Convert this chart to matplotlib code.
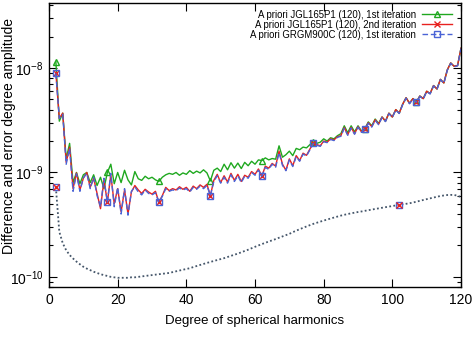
import numpy as np
from matplotlib import pyplot as plt

plt.rcParams['font.family'] = ['Liberation Sans', 'DejaVu Sans']

DEGREES = np.arange(2, 121)

# amplitudes in units of 1e-10
JGL_ITER1 = [115, 31, 37, 13.5, 19, 8.0, 10.0, 7.8, 9.5, 10.0,
             8.0, 9.5, 7.5, 9.0, 7.0, 10.0, 12.0, 7.8, 10.0, 8.0,
             10.5, 8.5, 7.6, 10.2, 8.7, 8.4, 9.2, 8.7, 9.0, 8.5,
             8.2, 9.0, 9.5, 9.8, 9.6, 10.0, 9.4, 9.9, 9.6, 10.4,
             9.8, 10.3, 9.9, 10.6, 9.9, 8.3, 10.5, 11.0, 10.2, 12.0,
             10.6, 12.4, 11.0, 12.3, 10.9, 12.5, 11.6, 12.8, 12.0, 13.2,
             13.0, 13.8, 13.2, 13.6, 13.4, 18.0, 14.0, 14.8, 16.0, 14.5,
             17.0, 16.5, 17.5, 17.2, 18.5, 19.5, 19.0, 19.5, 21.0, 20.0,
             21.5, 21.0, 22.5, 23.5, 28, 24, 28, 24.5, 28, 25,
             26.3, 30.5, 28, 32.5, 29.5, 34, 31, 37, 34, 40,
             37, 45, 52, 46, 51, 47.5, 54, 51, 60, 57,
             68, 63, 78, 72, 96, 112, 104, 106, 155]

JGL_ITER2 = [89, 33, 37, 12.5, 17.5, 7.0, 9.9, 6.8, 8.8, 10.0,
             7.2, 8.8, 6.3, 4.5, 8.5, 5.2, 9.5, 5.0, 7.0, 4.2,
             6.8, 4.0, 6.5, 7.5, 6.8, 6.3, 6.9, 6.5, 6.2, 6.6,
             5.2, 6.0, 7.2, 6.7, 7.0, 6.8, 7.3, 6.9, 7.2, 6.6,
             7.4, 7.0, 7.6, 7.2, 7.7, 6.0, 8.4, 9.6, 8.0, 9.3,
             8.1, 9.8, 8.4, 9.6, 8.2, 9.4, 9.0, 10.2, 9.6, 10.8,
             9.2, 11.5, 11.0, 12.2, 11.5, 16.0, 12.0, 10.5, 13.5, 11.6,
             14.5, 13.0, 15.3, 14.6, 16.8, 19.0, 18.5, 18.0, 20.0, 19.5,
             21.0, 20.5, 22.0, 22.5, 27.0, 23.0, 27.0, 23.5, 27.5, 24.5,
             26.0, 30, 27.5, 32, 29, 34, 31, 37, 34, 40,
             37, 45, 52, 46, 51, 47, 54, 51, 60, 57,
             68, 63, 78, 72, 96, 112, 104, 106, 155]

GRGM_ITER1 = [89, 33, 36, 12.0, 17.0, 6.6, 9.7, 6.6, 8.9, 9.8,
              7.0, 9.0, 6.0, 4.7, 8.8, 5.2, 9.8, 4.7, 7.2, 4.0,
              7.0, 3.9, 6.6, 7.3, 6.5, 6.1, 6.8, 6.3, 6.1, 6.4,
              5.2, 5.9, 7.0, 6.6, 6.8, 6.7, 7.1, 6.8, 7.0, 6.5,
              7.2, 6.9, 7.4, 7.0, 7.5, 6.0, 8.2, 9.3, 7.9, 9.0,
              7.9, 9.5, 8.2, 9.3, 8.0, 9.2, 8.8, 10.0, 9.4, 10.5,
              9.2, 11.2, 10.7, 12.0, 11.2, 15.5, 11.7, 10.4, 13.2, 11.4,
              14.2, 12.8, 15.0, 14.4, 16.5, 19.0, 18.2, 17.8, 19.7, 19.3,
              20.7, 20.2, 21.7, 22.2, 26.5, 22.7, 26.6, 23.2, 27.2, 24.2,
              26.0, 29.6, 27.2, 31.6, 28.7, 33.6, 30.7, 36.6, 33.7, 39.6,
              36.7, 44.5, 51.5, 45.5, 50.5, 47, 53.5, 50.5, 59.5, 56.5,
              67.5, 62.5, 77.5, 71.5, 95, 111, 103, 105, 154]

ERROR_AMP = [7.2, 2.7, 2.1, 1.8, 1.62, 1.5, 1.4, 1.32, 1.25, 1.2,
             1.16, 1.12, 1.09, 1.06, 1.04, 1.02, 1.0, 0.99, 0.98, 0.98,
             0.98, 0.98, 0.99, 0.99, 1.0, 1.01, 1.02, 1.03, 1.04, 1.05,
             1.06, 1.07, 1.08, 1.09, 1.11, 1.13, 1.15, 1.17, 1.19, 1.21,
             1.24, 1.27, 1.30, 1.33, 1.36, 1.39, 1.42, 1.45, 1.48, 1.51,
             1.55, 1.59, 1.63, 1.67, 1.72, 1.77, 1.82, 1.88, 1.94, 2.0,
             2.06, 2.12, 2.18, 2.24, 2.30, 2.37, 2.44, 2.51, 2.58, 2.68,
             2.77, 2.86, 2.95, 3.04, 3.13, 3.22, 3.30, 3.38, 3.46, 3.54,
             3.62, 3.70, 3.78, 3.86, 3.93, 4.0, 4.06, 4.12, 4.18, 4.23,
             4.29, 4.35, 4.41, 4.47, 4.53, 4.59, 4.65, 4.71, 4.77, 4.83,
             4.89, 4.95, 5.01, 5.07, 5.15, 5.25, 5.35, 5.45, 5.55, 5.65,
             5.75, 5.85, 5.95, 6.02, 6.08, 6.1, 6.08, 6.0, 5.8]

LABELS = ["A priori JGL165P1 (120), 1st iteration",
          "A priori JGL165P1 (120), 2nd iteration",
          "A priori GRGM900C (120), 1st iteration"]

GREEN = '#1fa81f'
RED = '#e8211f'
BLUE = '#4a63d6'


def main():
    fig = plt.figure(figsize=(4.74, 3.49), dpi=100)
    ax = fig.add_axes([0.1034, 0.1777, 0.8692, 0.8137])
    scale = 1e-10

    ax.plot(DEGREES, np.array(JGL_ITER1) * scale, color=GREEN, lw=1.0,
            marker='^', ms=5, mfc='none', mew=1.0, markevery=15, label=LABELS[0])
    ax.plot(DEGREES, np.array(JGL_ITER2) * scale, color=RED, lw=1.0,
            marker='x', ms=4.5, mew=1.0, markevery=15, label=LABELS[1])
    ax.plot(DEGREES, np.array(GRGM_ITER1) * scale, color=BLUE, lw=1.0,
            ls=(0, (4, 2)), marker='s', ms=5, mfc='none', mew=1.0,
            markevery=15, label=LABELS[2])

    err = np.array(ERROR_AMP) * scale
    ax.plot(DEGREES, err, color='#45566a', lw=1.3, ls=(0, (1, 1.3)))
    ax.plot(DEGREES, err, ls='none', marker='s', ms=5, mfc='none',
            mec=BLUE, mew=1.0, markevery=[0, 100])
    ax.plot(DEGREES, err, ls='none', marker='x', ms=4.5, color=RED,
            mew=1.0, markevery=[0, 100])

    ax.set_yscale('log')
    ax.set_xlim(0, 120)
    ax.set_ylim(8.0e-11, 4.2e-8)
    ax.set_xticks(np.arange(0, 121, 20))
    ax.tick_params(which='both', direction='in', top=True, right=True,
                   labelsize=10, width=0.8)
    ax.tick_params(which='major', length=6, pad=4)
    ax.tick_params(which='minor', length=3)
    for s in ax.spines.values():
        s.set_linewidth(1.0)

    ax.set_xlabel("Degree of spherical harmonics", fontsize=9.5, labelpad=6)
    ax.set_ylabel("Difference and error degree amplitude", fontsize=10,
                  va='center')
    ax.yaxis.set_label_coords(-0.098, 0.53)

    ax.legend(loc='upper right', bbox_to_anchor=(0.995, 1.0), frameon=False,
              fontsize=6.9, markerfirst=False, numpoints=1, handlelength=3.2,
              handletextpad=0.6, labelspacing=0.0, borderaxespad=0.3,
              alignment='right')

    fig.savefig("out.png", dpi=100)


if __name__ == '__main__':
    main()
